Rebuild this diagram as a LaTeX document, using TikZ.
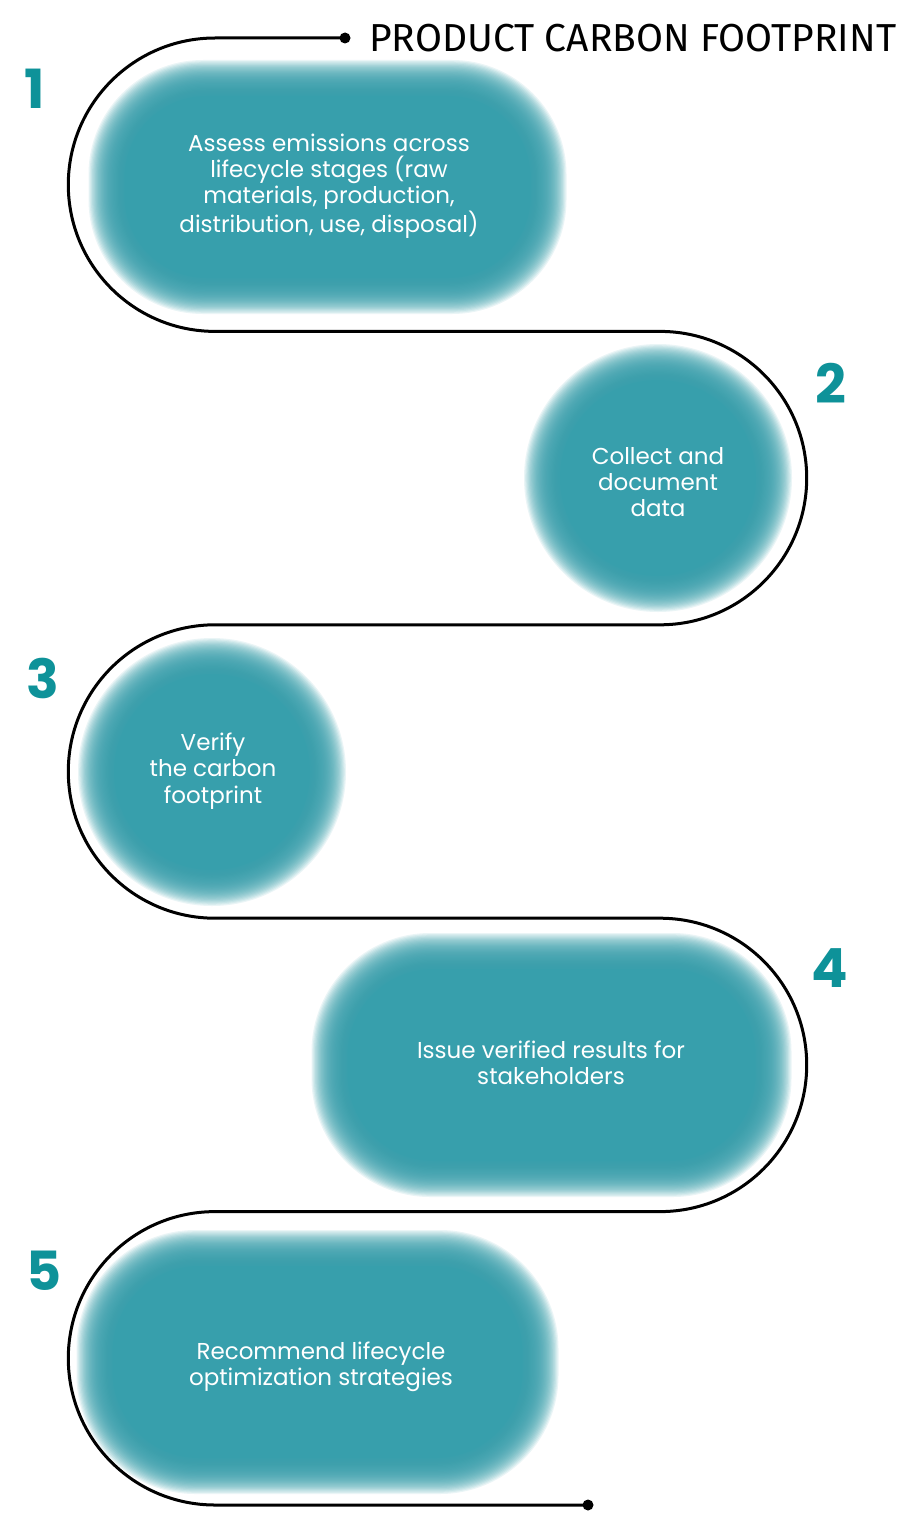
\documentclass[tikz,border=0pt]{standalone}
\usepackage{fontspec}
\setmainfont{Poppins}
\newfontfamily\titlefont{Fira Sans}
\definecolor{blobc}{HTML}{379FAC}
\definecolor{numc}{HTML}{0E9299}
\tikzset{
  pathline/.style={line width=3pt, black},
  enddot/.style={circle, fill=black, inner sep=0pt, minimum size=11pt},
  steptext/.style={text=white, align=center, font=\fontsize{23}{26.3}\selectfont},
  numlabel/.style={text=numc, inner sep=0pt, font=\fontsize{54}{54}\bfseries\selectfont},
  titletext/.style={inner sep=0pt, font=\titlefont\fontsize{39}{39}\selectfont},
}
\newcommand{\featherpill}[5]{%
  \foreach \i in {0,...,29}{%
    \pgfmathsetmacro{\w}{#3-1.2*\i}%
    \pgfmathsetmacro{\h}{#4-1.2*\i}%
    \pgfmathsetmacro{\r}{#5*\h}%
    \fill[blobc, fill opacity=0.1, rounded corners=\r pt] (#1-\w,#2-\h) rectangle (#1+\w,#2+\h);
  }%
  \pgfmathsetmacro{\w}{#3-36}%
  \pgfmathsetmacro{\h}{#4-36}%
  \pgfmathsetmacro{\r}{#5*\h}%
  \fill[blobc, rounded corners=\r pt] (#1-\w,#2-\h) rectangle (#1+\w,#2+\h);
}
\newcommand{\feathercirc}[3]{%
  \foreach \i in {0,...,29}{%
    \pgfmathsetmacro{\w}{#3-1.2*\i}%
    \fill[blobc, fill opacity=0.1] (#1,#2) circle[radius=\w pt];
  }%
  \pgfmathsetmacro{\w}{#3-36}%
  \fill[blobc] (#1,#2) circle[radius=\w pt];
}
\begin{document}
\begin{tikzpicture}[x=1pt, y=-1pt]
\useasboundingbox (0,0) rectangle (920,1536);
\fill[white] (0,0) rectangle (920,1536);

% blobs
\featherpill{327.5}{187}{239}{127}{0.9}
\feathercirc{658}{478}{134}
\feathercirc{212}{772}{134}
\featherpill{551.5}{1065}{240}{132}{0.9}
\featherpill{317.5}{1362}{241}{132}{0.9}

% serpentine path
\coordinate (start) at (345,38);
\coordinate (finish) at (588,1505);
\draw[pathline] (start) -- (215,38)
  arc[start angle=270, end angle=90, radius=146.7]
  -- (660,331.4)
  arc[start angle=270, end angle=450, radius=146.7]
  -- (215,624.8)
  arc[start angle=270, end angle=90, radius=146.7]
  -- (660,918.2)
  arc[start angle=270, end angle=450, radius=146.7]
  -- (215,1211.6)
  arc[start angle=270, end angle=90, radius=146.7]
  -- (finish);
\node[enddot] (dotA) at (start) {};
\node[enddot] (dotB) at (finish) {};

% title
\node[titletext, anchor=west] (title) at (369,38) {PRODUCT CARBON FOOTPRINT};

% numbers
\node[numlabel] (n1) at (35,89) {1};
\node[numlabel] (n2) at (831,383) {2};
\node[numlabel] (n3) at (43,678) {3};
\node[numlabel] (n4) at (830,968) {4};
\node[numlabel] (n5) at (44,1271) {5};

% texts
\node[steptext] (t1) at (329,186) {Assess emissions across\\lifecycle stages (raw\\materials, production,\\distribution, use, disposal)};
\node[steptext] (t2) at (658,482) {Collect and\\document\\data};
\node[steptext] (t3) at (213,771) {Verify\\the carbon\\footprint};
\node[steptext] (t4) at (551,1063) {Issue verified results for\\stakeholders};
\node[steptext] (t5) at (321,1367) {Recommend lifecycle\\optimization strategies};
\end{tikzpicture}
\end{document}
